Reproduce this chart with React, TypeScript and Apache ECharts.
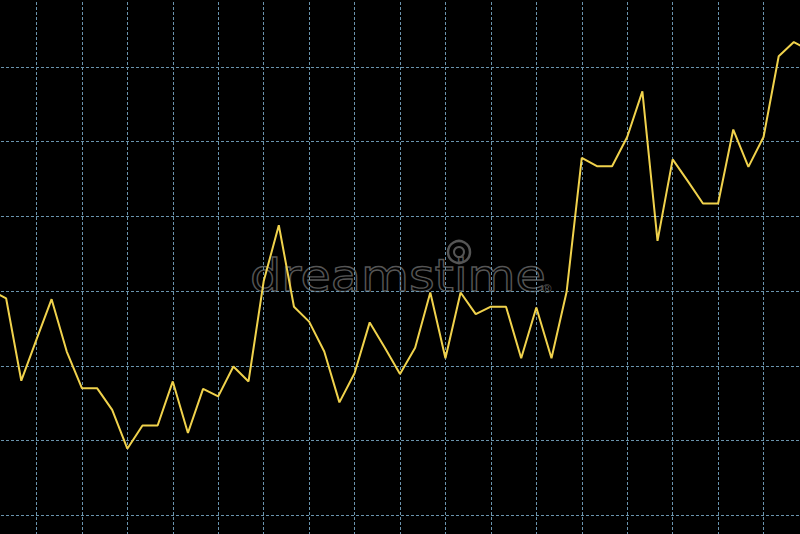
import React, { useEffect, useRef } from "react";
import * as echarts from "echarts";

// x positions: one point per third of a grid column, starting 3 points left of the first visible grid line
const startIndex = -3;
const values = [
  30.1, 29.0, 18.0, 23.5, 28.9, 21.9, 17.0, 17.0, 14.1, 8.9,
  12.0, 12.0, 17.9, 11.0, 16.9, 15.9, 19.9, 17.9, 31.3, 38.8,
  27.9, 25.9, 21.9, 15.1, 19.0, 25.8, 22.4, 18.9, 22.4, 29.8,
  21.0, 29.8, 26.9, 27.9, 27.9, 21.0, 27.8, 21.0, 29.9, 47.8,
  46.7, 46.7, 50.6, 56.7, 36.7, 47.6, 44.7, 41.7, 41.7, 51.6,
  46.6, 50.6, 61.4, 63.3, 62.2,
];
const xRange = [-3, 51];
const yRange = [-10, 70];
const watermarkText = "dreamstime";

// chart canvas is larger than the window and shifted so that edge grid lines fall outside
const OFF_X = 9;
const OFF_Y = 8;

export default function App() {
  const ref = useRef<HTMLDivElement>(null);
  useEffect(() => {
    if (!ref.current) return;
    const chart = echarts.init(ref.current, null, { renderer: "svg" });
    const data = values.map((v, i) => [startIndex + i, v]);
    const gridLine = {
      show: true,
      lineStyle: { color: "#6a94ad", width: 1, type: [3, 2] as any },
    };
    const wm = "#555555";
    chart.setOption({
      animation: false,
      backgroundColor: "#000000",
      grid: { left: 0, right: 0, top: 0, bottom: 0 },
      xAxis: {
        type: "value",
        min: xRange[0],
        max: xRange[1],
        interval: 3,
        axisLine: { show: false },
        axisTick: { show: false },
        axisLabel: { show: false },
        splitLine: gridLine,
      },
      yAxis: {
        type: "value",
        min: yRange[0],
        max: yRange[1],
        interval: 10,
        axisLine: { show: false },
        axisTick: { show: false },
        axisLabel: { show: false },
        splitLine: gridLine,
      },
      graphic: [
        {
          type: "group",
          z: 1,
          x: 250 + OFF_X,
          y: 254 + OFF_Y,
          scaleX: 1.12,
          children: [
            {
              type: "text",
              x: 0,
              y: 0,
              style: {
                text: watermarkText,
                font: "44px 'DejaVu Sans'",
                fill: "rgba(0,0,0,0)",
                stroke: wm,
                lineWidth: 1.3,
              },
            },
          ],
        },
        {
          type: "circle",
          z: 1,
          shape: { cx: 459 + OFF_X, cy: 252 + OFF_Y, r: 11 },
          style: { fill: "none", stroke: wm, lineWidth: 2.5 },
        },
        {
          type: "circle",
          z: 1,
          shape: { cx: 459 + OFF_X, cy: 252 + OFF_Y, r: 5 },
          style: { fill: "none", stroke: wm, lineWidth: 2 },
        },
        {
          type: "text",
          z: 1,
          x: 541 + OFF_X,
          y: 283 + OFF_Y,
          style: { text: "®", font: "12px 'DejaVu Sans'", fill: wm },
        },
      ],
      series: [
        {
          type: "line",
          data,
          showSymbol: false,
          symbol: "none",
          z: 3,
          lineStyle: { color: "#f0d24c", width: 2 },
        },
      ],
    });
    return () => chart.dispose();
  }, []);
  return (
    <div
      style={{
        position: "absolute",
        left: 0,
        top: 0,
        width: 800,
        height: 534,
        background: "#000",
        overflow: "hidden",
      }}
    >
      <div
        ref={ref}
        style={{
          position: "absolute",
          left: -OFF_X,
          top: -OFF_Y,
          width: 818,
          height: 598,
        }}
      />
    </div>
  );
}
